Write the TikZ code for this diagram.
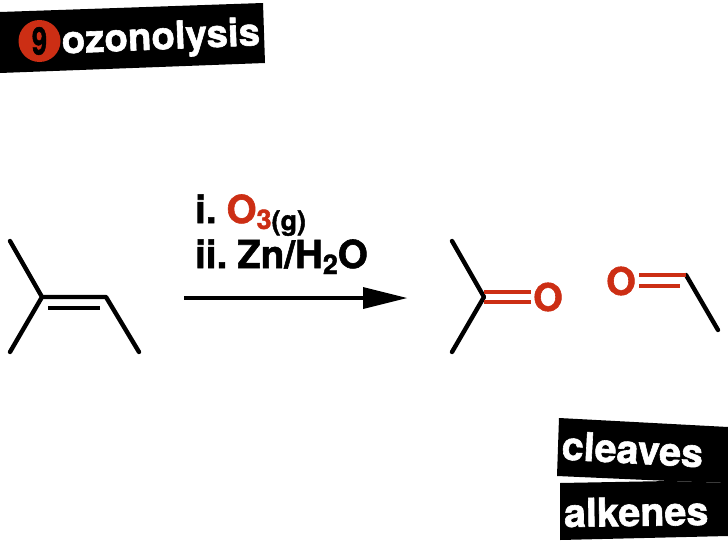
\documentclass[tikz,border=0pt]{standalone}
\usepackage{fontspec}
\setmainfont[BoldFeatures={FakeBold=1.5}]{TeX Gyre Heros}
\definecolor{ozred}{HTML}{CC2E14}
\tikzset{
	bond/.style={line width=4.4pt,line cap=round,black},
	redbond/.style={line width=4pt,ozred},
	banner/.style={fill=black,draw=none},
	bannertext/.style={inner sep=0pt,anchor=base west,text=white,font=\fontsize{39.5}{39.5}\bfseries\selectfont},
	reagent/.style={inner sep=0pt,anchor=base west,font=\fontsize{38.5}{38.5}\bfseries\selectfont},
	oxygen/.style={inner sep=0pt,text=ozred,font=\fontsize{38}{38}\bfseries\selectfont}
}
\begin{document}
\begin{tikzpicture}[x=1pt,y=-1pt]
	\useasboundingbox (0,0) rectangle (728,546);
	% banners
	\fill[banner] (0,12)--(263,3)--(265,63)--(0,73)--cycle;
	\fill[banner] (559,418)--(728,427)--(728,483)--(670,481)--(557,476)--cycle;
	\fill[banner] (560,483)--(670,481)--(728,483)--(728,536)--(560,540)--cycle;
	\node[circle,fill=ozred,minimum size=42pt,inner sep=0pt] (num) at (39.5,41) {};
	\node[text=black,font=\fontsize{38}{38}\bfseries\selectfont,xscale=0.72] at (num) {9};
	\node[bannertext,rotate=2.4,font=\fontsize{38.5}{38.5}\bfseries\selectfont] (title) at (62,53.5) {ozonolysis};
	\node[bannertext,rotate=-3.2] (cleaves) at (561,459.5) {cleaves};
	\node[bannertext,rotate=0.8] (alkenes) at (564,527) {alkenes};
	% alkene
	\coordinate (A) at (10,241); \coordinate (B) at (42,297); \coordinate (C) at (10,352);
	\coordinate (D) at (106,297); \coordinate (E) at (139,352);
	\coordinate (F) at (48,308); \coordinate (G) at (100,308);
	\draw[bond,line join=round] (A)--(B)--(C) (B)--(D)--(E);
	\draw[bond,line cap=butt] (F)--(G);
	% arrow
	\coordinate (S) at (184,298); \coordinate (T) at (363,298); \coordinate (U) at (407,298);
	\draw[line width=3.8pt] (S)--(T);
	\fill (U)--(363,287)--(363,309)--cycle;
	% reagents
	\node[reagent] (ozone) at (195,223) {i.\hspace{10pt}\textcolor{ozred}{O}\raisebox{-6pt}{\fontsize{27}{27}\selectfont\textcolor{ozred}{3}\raisebox{-1pt}{(g)}}};
	\node[reagent] (zinc) at (195,268) {ii.\hspace{10pt}Zn/H\raisebox{-6pt}{\fontsize{27}{27}\selectfont 2}O};
	% ketone
	\coordinate (H) at (452,241); \coordinate (I) at (484,297); \coordinate (J) at (452,352);
	\node[oxygen] (O1) at (548,297) {O};
	\draw[bond,line join=round] (H)--(I)--(J);
	\draw[redbond] (484,291.5)--(531,291.5) (484,302)--(531,302);
	% aldehyde
	\node[oxygen] (O2) at (621,281) {O};
	\coordinate (K) at (686,275); \coordinate (L) at (718,330);
	\draw[bond] (K)--(L);
	\draw[redbond] (639,275)--(K) (639,286)--(680,286);
\end{tikzpicture}
\end{document}
